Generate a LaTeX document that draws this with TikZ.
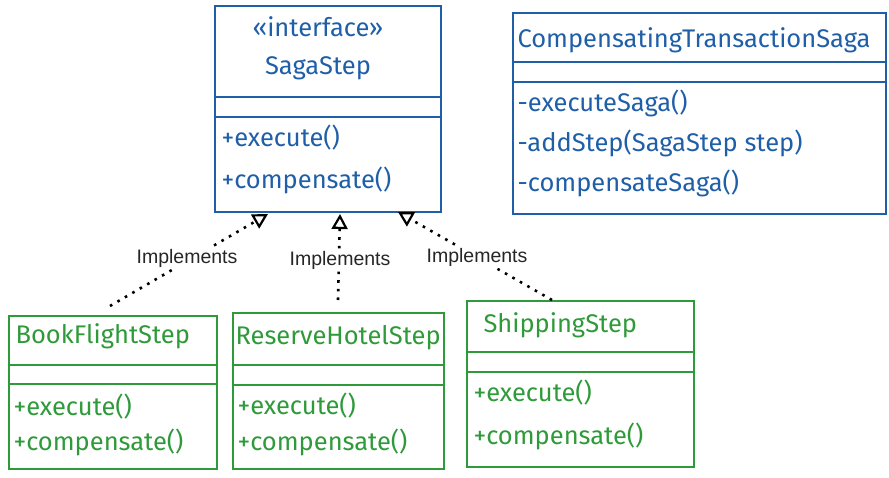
\documentclass[tikz,border=0pt]{standalone}
\usepackage{fontspec}
\setmainfont{Fira Sans}
\newfontfamily\lab{Liberation Sans}
\usetikzlibrary{arrows.meta}
\definecolor{bl}{HTML}{1F5FA8}
\definecolor{gr}{HTML}{2F9A3A}
\begin{document}
\begin{tikzpicture}[x=1pt,y=-1pt,
 box/.style={draw,line width=2.2pt},
 t/.style={anchor=west,font=\fontsize{25.5}{28}\selectfont},
 impl/.style={line width=2.6pt,dash pattern=on 2.6pt off 6pt,-{Triangle[open,length=15pt,width=16pt,line width=2.2pt,sep=0pt]}},
 lb/.style={fill=white,inner sep=2pt,font=\lab\fontsize{19.5}{22}\selectfont,text=black!85}]
\useasboundingbox (0,0) rectangle (889,477);
% SagaStep
\node[box,bl,minimum width=226pt,minimum height=206pt,anchor=north west] (ss) at (214,5) {};
\draw[bl,line width=1.5pt] (214,97)--(440,97) (214,117)--(440,117);
\node[t,bl,anchor=center] (ss1) at (318,27) {«interface»};
\node[t,bl,anchor=center] (ss2) at (318,68) {SagaStep};
\node[t,bl] (ss3) at (218,138) {+execute()};
\node[t,bl] (ss4) at (218,180) {+compensate()};
% CTS
\node[box,bl,minimum width=373pt,minimum height=201pt,anchor=north west] (ct) at (512,12) {};
\draw[bl,line width=1.5pt] (512,62)--(885,62) (512,82)--(885,82);
\node[t,bl] (c1) at (514,40) {CompensatingTransactionSaga};
\node[t,bl] (c2) at (514,103) {-executeSaga()};
\node[t,bl] (c3) at (514,143) {-addStep(SagaStep step)};
\node[t,bl] (c4) at (514,183) {-compensateSaga()};
% BookFlight
\node[box,gr,minimum width=208pt,minimum height=153pt,anchor=north west] (bf) at (8,315) {};
\draw[gr,line width=1.5pt] (8,365)--(216,365) (8,384)--(216,384);
\node[t,gr] (b1) at (12,336) {BookFlightStep};
\node[t,gr] (b2) at (10,407) {+execute()};
\node[t,gr] (b3) at (10,442) {+compensate()};
% ReserveHotel
\node[box,gr,minimum width=211pt,minimum height=156pt,anchor=north west] (rh) at (232,312) {};
\draw[gr,line width=1.5pt] (232,365)--(443,365) (232,385)--(443,385);
\node[t,gr] (r1) at (232,338) {ReserveHotelStep};
\node[t,gr] (r2) at (234,406) {+execute()};
\node[t,gr] (r3) at (234,442) {+compensate()};
% Shipping
\node[box,gr,minimum width=227pt,minimum height=166pt,anchor=north west] (sh) at (466,300) {};
\draw[gr,line width=1.5pt] (466,352)--(693,352) (466,372)--(693,372);
\node[t,gr] (h1) at (480,325) {ShippingStep};
\node[t,gr] (h2) at (470,393) {+execute()};
\node[t,gr] (h3) at (470,436) {+compensate()};
% arrows
\coordinate (a1) at (110,306); \coordinate (e1) at (268,214);
\coordinate (a2) at (338,300); \coordinate (e2) at (340,214);
\coordinate (a3) at (552,300); \coordinate (e3) at (398,212);
\draw[impl] (a1)--(e1);
\draw[impl] (a2)--(e2);
\draw[impl] (a3)--(e3);
\node[lb] (l1) at (187,258) {Implements};
\node[lb] (l2) at (340,260) {Implements};
\node[lb] (l3) at (477,257) {Implements};
\end{tikzpicture}
\end{document}
